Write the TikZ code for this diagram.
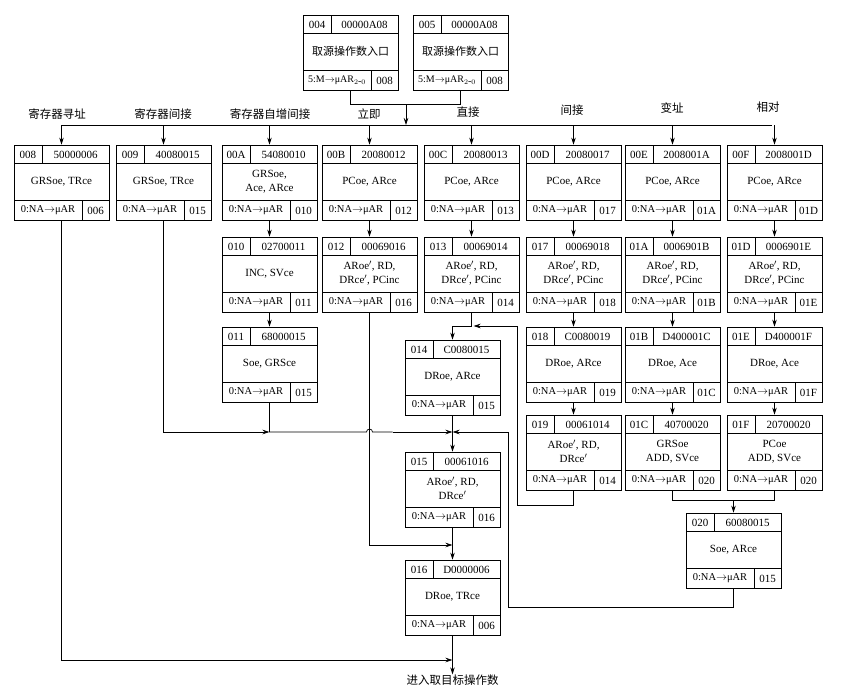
\documentclass[tikz,border=0pt]{standalone}
\usepackage{fontspec}
\setmainfont{Liberation Serif}
\newfontfamily\cjk{Noto Sans CJK SC}
\usetikzlibrary{arrows.meta}
\tikzset{
 box/.style={draw,minimum width=95pt,minimum height=75pt,inner sep=0pt},
 txt/.style={inner sep=0pt,font=\fontsize{11}{14}\selectfont,align=center},
 lbl/.style={inner sep=0pt,font=\cjk\fontsize{11.5}{13}\selectfont},
 arr/.style={-{Stealth[length=7pt,width=4.5pt]}},
 line/.style={line width=0.7pt}
}
\newcommand\ubox[8]{%
 \node[box,line] (#1) at (#2+47.5,#3+37.5) {};
 \draw[line] (#2,#3+18) -- (#2+95,#3+18) (#2+28,#3) -- (#2+28,#3+18)
   (#2,#3+55) -- (#2+95,#3+55) (#2+68,#3+55) -- (#2+68,#3+75);
 \node[txt] (#1a) at (#2+14,#3+9.5) {#4};
 \node[txt] (#1c) at (#2+61.5,#3+9.5) {#5};
 \node[txt] (#1b) at (#2+47.5,#3+36.5) {#6};
 \node[txt] (#1f) at (#2+34,#3+65.5) {#7};
 \node[txt] (#1n) at (#2+81.5,#3+65.5) {#8};
}
\newcommand\na{{\fontsize{10.5}{12}\selectfont 0:NA$\rightarrow$μAR}}
\newcommand\rdp{ARoe$'$, RD,\\DRce$'$, PCinc}
\newcommand\srcf{{\fontsize{10}{12}\selectfont 5:M$\rightarrow$μAR$_{2\mbox{-}0}$}}
\begin{document}
\begin{tikzpicture}[x=1pt,y=-1pt,line width=0.7pt]
\fill[white] (0,0) rectangle (855,694);
\useasboundingbox (0,0) rectangle (855,694);
\ubox{b004}{303}{15}{004}{00000A08}{\cjk 取源操作数入口}{\srcf}{008}
\ubox{b005}{413}{15}{005}{00000A08}{\cjk 取源操作数入口}{\srcf}{008}
\ubox{b008}{14}{145}{008}{50000006}{GRSoe, TRce}{\na}{006}
\ubox{b009}{116}{145}{009}{40080015}{GRSoe, TRce}{\na}{015}
\ubox{b00A}{222}{145}{00A}{54080010}{GRSoe,\\Ace, ARce}{\na}{010}
\ubox{b00B}{322}{145}{00B}{20080012}{PCoe, ARce}{\na}{012}
\ubox{b00C}{424}{145}{00C}{20080013}{PCoe, ARce}{\na}{013}
\ubox{b00D}{526}{145}{00D}{20080017}{PCoe, ARce}{\na}{017}
\ubox{b00E}{625}{145}{00E}{2008001A}{PCoe, ARce}{\na}{01A}
\ubox{b00F}{727}{145}{00F}{2008001D}{PCoe, ARce}{\na}{01D}
\ubox{b010}{222}{237}{010}{02700011}{INC, SVce}{\na}{011}
\ubox{b012}{322}{237}{012}{00069016}{\rdp}{\na}{016}
\ubox{b013}{424}{237}{013}{00069014}{\rdp}{\na}{014}
\ubox{b017}{526}{237}{017}{00069018}{\rdp}{\na}{018}
\ubox{b01A}{625}{237}{01A}{0006901B}{\rdp}{\na}{01B}
\ubox{b01D}{727}{237}{01D}{0006901E}{\rdp}{\na}{01E}
\ubox{b011}{222}{327}{011}{68000015}{Soe, GRSce}{\na}{015}
\ubox{b018}{526}{327}{018}{C0080019}{DRoe, ARce}{\na}{019}
\ubox{b01B}{625}{327}{01B}{D400001C}{DRoe, Ace}{\na}{01C}
\ubox{b01E}{727}{327}{01E}{D400001F}{DRoe, Ace}{\na}{01F}
\ubox{b014}{405}{340}{014}{C0080015}{DRoe, ARce}{\na}{015}
\ubox{b019}{526}{415}{019}{00061014}{ARoe$'$, RD,\\DRce$'$}{\na}{014}
\ubox{b01C}{625}{415}{01C}{40700020}{GRSoe\\ADD, SVce}{\na}{020}
\ubox{b01F}{727}{415}{01F}{20700020}{PCoe\\ADD, SVce}{\na}{020}
\ubox{b015}{405}{452}{015}{00061016}{ARoe$'$, RD,\\DRce$'$}{\na}{016}
\ubox{b020}{686}{513}{020}{60080015}{Soe, ARce}{\na}{015}
\ubox{b016}{405}{560}{016}{D0000006}{DRoe, TRce}{\na}{006}
\node[lbl] (goal) at (452.5,680) {进入取目标操作数};
\coordinate (j) at (0,104);
\coordinate (bus) at (0,125);
\coordinate (busL) at (62,125);
\coordinate (busR) at (772,125);
\draw (b004.south) -- (b004.south |- j) -- (b005.south |- j) -- (b005.south);
\coordinate (jm) at (406,104);
\draw[arr] (jm) -- (jm |- bus);
\draw (busL) -- (busR);
\foreach \b in {b008,b009,b00A,b00B,b00C,b00D,b00E,b00F}
  \draw[arr] (bus -| \b.north) -- (\b.north);
\node[lbl] (l1) at (57,114) {寄存器寻址};
\node[lbl] (l2) at (163,114) {寄存器间接};
\node[lbl] (l3) at (270,114) {寄存器自增间接};
\node[lbl] (l4) at (369,114) {立即};
\node[lbl] (l5) at (468,112) {直接};
\node[lbl] (l6) at (572,110) {间接};
\node[lbl] (l7) at (672,108) {变址};
\node[lbl] (l8) at (768,107) {相对};
\draw[arr] (b00A.south) -- (b010.north);
\draw[arr] (b010.south) -- (b011.north);
\draw[arr] (b00B.south) -- (b012.north);
\draw[arr] (b00C.south) -- (b013.north);
\draw[arr] (b00D.south) -- (b017.north);
\draw[arr] (b017.south) -- (b018.north);
\draw[arr] (b018.south) -- (b019.north);
\draw[arr] (b00E.south) -- (b01A.north);
\draw[arr] (b01A.south) -- (b01B.north);
\draw[arr] (b01B.south) -- (b01C.north);
\draw[arr] (b00F.south) -- (b01D.north);
\draw[arr] (b01D.south) -- (b01E.north);
\draw[arr] (b01E.south) -- (b01F.north);
\coordinate (k) at (0,326);
\draw[arr] (b013.south) -- (b013.south |- k) -| (b014.north);
\coordinate (r1) at (517,505);
\draw[arr] (b019.south) |- (r1) -- (r1 |- k) -- ([xshift=2pt]b013.south |- k);
\coordinate (m) at (0,432);
\draw[arr] (b009.south) |- (b011.south |- m);
\draw (b011.south) -- (b011.south |- m) -- ([xshift=-3pt]b012.south |- m) arc(180:360:3) -- ++(20,0);
\draw[arr] ([xshift=23pt]b012.south |- m) -- (b014.south |- m);
\coordinate (r2) at (508,607);
\draw[arr] (b020.south) |- (r2) -- (r2 |- m) -- (b014.south |- m);
\draw[arr] (b014.south) -- (b015.north);
\coordinate (n) at (0,545);
\draw[arr] (b012.south) -- (b012.south |- n) -- (b015.south |- n);
\draw[arr] (b015.south) -- (b016.north);
\coordinate (p) at (0,500);
\draw (b01C.south) |- (p -| b01F.south) -- (b01F.south);
\draw[arr] (b020.north |- p) -- (b020.north);
\coordinate (q) at (0,660);
\draw[arr] (b008.south) |- (b016.south |- q);
\draw[arr] (b016.south) -- (goal.north);
\end{tikzpicture}
\end{document}
